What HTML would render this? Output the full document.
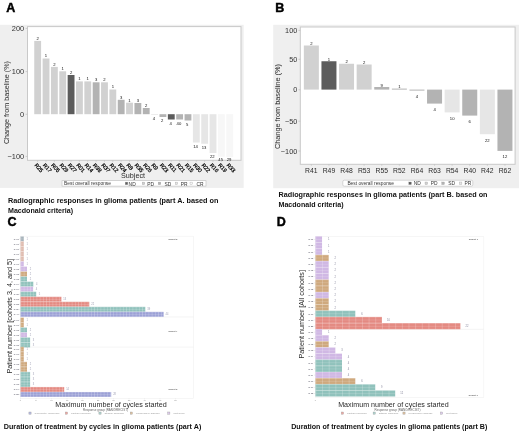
<!DOCTYPE html>
<html lang="en"><head><meta charset="utf-8"><title>Radiographic responses and duration of treatment in glioma patients</title>
<style>
html,body{margin:0;padding:0;background:#fff;}
body{width:520px;height:431px;overflow:hidden;}
svg{display:block;font-family:"Liberation Sans", sans-serif;filter:blur(0.35px);}
</style></head><body>
<svg width="520" height="431" viewBox="0 0 520 431">
<rect x="0" y="0" width="520" height="431" fill="#fff"/>
<text x="6.30" y="12.20" font-size="12.5" text-anchor="start" fill="#000" font-weight="bold" stroke="#000" stroke-width="0.45">A</text>
<text x="275.30" y="12.20" font-size="12.5" text-anchor="start" fill="#000" font-weight="bold" stroke="#000" stroke-width="0.45">B</text>
<text x="7.60" y="225.60" font-size="12.5" text-anchor="start" fill="#000" font-weight="bold" stroke="#000" stroke-width="0.45">C</text>
<text x="276.70" y="225.90" font-size="12.5" text-anchor="start" fill="#000" font-weight="bold" stroke="#000" stroke-width="0.45">D</text>
<rect x="0.00" y="24.80" width="243.70" height="163.10" fill="#efefef"/>
<rect x="27.50" y="26.60" width="213.50" height="133.70" fill="#fff" stroke="#c9c9c9" stroke-width="1"/>
<text x="24.20" y="31.05" font-size="7.4" text-anchor="end" fill="#333">200</text>
<line x1="25.60" y1="28.40" x2="27.50" y2="28.40" stroke="#bdbdbd" stroke-width="0.7"/>
<text x="24.20" y="74.25" font-size="7.4" text-anchor="end" fill="#333">100</text>
<line x1="25.60" y1="71.60" x2="27.50" y2="71.60" stroke="#bdbdbd" stroke-width="0.7"/>
<text x="24.20" y="116.95" font-size="7.4" text-anchor="end" fill="#333">0</text>
<line x1="25.60" y1="114.30" x2="27.50" y2="114.30" stroke="#bdbdbd" stroke-width="0.7"/>
<text x="24.20" y="159.05" font-size="7.4" text-anchor="end" fill="#333">−100</text>
<line x1="25.60" y1="156.40" x2="27.50" y2="156.40" stroke="#bdbdbd" stroke-width="0.7"/>
<text x="8.80" y="102.60" font-size="7.2" text-anchor="middle" fill="#2a2a2a" transform="rotate(-90 8.80 102.60)" textLength="83.00" lengthAdjust="spacingAndGlyphs">Change from baseline (%)</text>
<rect x="34.25" y="40.90" width="6.85" height="73.30" fill="#d1d1d1"/>
<text x="37.67" y="39.80" font-size="4.2" text-anchor="middle" fill="#111">2</text>
<line x1="37.67" y1="160.30" x2="37.67" y2="161.80" stroke="#bdbdbd" stroke-width="0.6"/>
<text x="34.17" y="165.40" font-size="5.5" text-anchor="start" fill="#000" transform="rotate(48 34.17 165.40)" stroke="#000" stroke-width="0.2">R25</text>
<rect x="42.60" y="58.50" width="6.85" height="55.70" fill="#d1d1d1"/>
<text x="46.02" y="57.40" font-size="4.2" text-anchor="middle" fill="#111">1</text>
<line x1="46.02" y1="160.30" x2="46.02" y2="161.80" stroke="#bdbdbd" stroke-width="0.6"/>
<text x="42.52" y="165.40" font-size="5.5" text-anchor="start" fill="#000" transform="rotate(48 42.52 165.40)" stroke="#000" stroke-width="0.2">R17</text>
<rect x="50.95" y="66.90" width="6.85" height="47.30" fill="#d1d1d1"/>
<text x="54.37" y="65.80" font-size="4.2" text-anchor="middle" fill="#111">2</text>
<line x1="54.37" y1="160.30" x2="54.37" y2="161.80" stroke="#bdbdbd" stroke-width="0.6"/>
<text x="50.87" y="165.40" font-size="5.5" text-anchor="start" fill="#000" transform="rotate(48 50.87 165.40)" stroke="#000" stroke-width="0.2">R05</text>
<rect x="59.30" y="71.30" width="6.85" height="42.90" fill="#d1d1d1"/>
<text x="62.72" y="70.20" font-size="4.2" text-anchor="middle" fill="#111">1</text>
<line x1="62.72" y1="160.30" x2="62.72" y2="161.80" stroke="#bdbdbd" stroke-width="0.6"/>
<text x="59.22" y="165.40" font-size="5.5" text-anchor="start" fill="#000" transform="rotate(48 59.22 165.40)" stroke="#000" stroke-width="0.2">R29</text>
<rect x="67.65" y="75.00" width="6.85" height="39.20" fill="#5c5c5c"/>
<text x="71.07" y="73.90" font-size="4.2" text-anchor="middle" fill="#111">2</text>
<line x1="71.07" y1="160.30" x2="71.07" y2="161.80" stroke="#bdbdbd" stroke-width="0.6"/>
<text x="67.57" y="165.40" font-size="5.5" text-anchor="start" fill="#000" transform="rotate(48 67.57 165.40)" stroke="#000" stroke-width="0.2">R27</text>
<rect x="76.00" y="81.40" width="6.85" height="32.80" fill="#d1d1d1"/>
<text x="79.42" y="80.30" font-size="4.2" text-anchor="middle" fill="#111">1</text>
<line x1="79.42" y1="160.30" x2="79.42" y2="161.80" stroke="#bdbdbd" stroke-width="0.6"/>
<text x="75.92" y="165.40" font-size="5.5" text-anchor="start" fill="#000" transform="rotate(48 75.92 165.40)" stroke="#000" stroke-width="0.2">R01</text>
<rect x="84.35" y="81.40" width="6.85" height="32.80" fill="#d1d1d1"/>
<text x="87.77" y="80.30" font-size="4.2" text-anchor="middle" fill="#111">1</text>
<line x1="87.77" y1="160.30" x2="87.77" y2="161.80" stroke="#bdbdbd" stroke-width="0.6"/>
<text x="84.27" y="165.40" font-size="5.5" text-anchor="start" fill="#000" transform="rotate(48 84.27 165.40)" stroke="#000" stroke-width="0.2">R14</text>
<rect x="92.70" y="82.30" width="6.85" height="31.90" fill="#b3b3b3"/>
<text x="96.12" y="81.20" font-size="4.2" text-anchor="middle" fill="#111">3</text>
<line x1="96.12" y1="160.30" x2="96.12" y2="161.80" stroke="#bdbdbd" stroke-width="0.6"/>
<text x="92.62" y="165.40" font-size="5.5" text-anchor="start" fill="#000" transform="rotate(48 92.62 165.40)" stroke="#000" stroke-width="0.2">R38</text>
<rect x="101.05" y="82.30" width="6.85" height="31.90" fill="#d1d1d1"/>
<text x="104.47" y="81.20" font-size="4.2" text-anchor="middle" fill="#111">2</text>
<line x1="104.47" y1="160.30" x2="104.47" y2="161.80" stroke="#bdbdbd" stroke-width="0.6"/>
<text x="100.97" y="165.40" font-size="5.5" text-anchor="start" fill="#000" transform="rotate(48 100.97 165.40)" stroke="#000" stroke-width="0.2">R37</text>
<rect x="109.40" y="89.50" width="6.85" height="24.70" fill="#d1d1d1"/>
<text x="112.82" y="88.40" font-size="4.2" text-anchor="middle" fill="#111">1</text>
<line x1="112.82" y1="160.30" x2="112.82" y2="161.80" stroke="#bdbdbd" stroke-width="0.6"/>
<text x="109.32" y="165.40" font-size="5.5" text-anchor="start" fill="#000" transform="rotate(48 109.32 165.40)" stroke="#000" stroke-width="0.2">R12</text>
<rect x="117.75" y="99.80" width="6.85" height="14.40" fill="#b3b3b3"/>
<text x="121.17" y="98.70" font-size="4.2" text-anchor="middle" fill="#111">3</text>
<line x1="121.17" y1="160.30" x2="121.17" y2="161.80" stroke="#bdbdbd" stroke-width="0.6"/>
<text x="117.67" y="165.40" font-size="5.5" text-anchor="start" fill="#000" transform="rotate(48 117.67 165.40)" stroke="#000" stroke-width="0.2">R24</text>
<rect x="126.10" y="102.70" width="6.85" height="11.50" fill="#d1d1d1"/>
<text x="129.52" y="101.60" font-size="4.2" text-anchor="middle" fill="#111">1</text>
<line x1="129.52" y1="160.30" x2="129.52" y2="161.80" stroke="#bdbdbd" stroke-width="0.6"/>
<text x="126.02" y="165.40" font-size="5.5" text-anchor="start" fill="#000" transform="rotate(48 126.02 165.40)" stroke="#000" stroke-width="0.2">R8</text>
<rect x="134.45" y="103.00" width="6.85" height="11.20" fill="#b3b3b3"/>
<text x="137.87" y="101.90" font-size="4.2" text-anchor="middle" fill="#111">3</text>
<line x1="137.87" y1="160.30" x2="137.87" y2="161.80" stroke="#bdbdbd" stroke-width="0.6"/>
<text x="134.37" y="165.40" font-size="5.5" text-anchor="start" fill="#000" transform="rotate(48 134.37 165.40)" stroke="#000" stroke-width="0.2">R35</text>
<rect x="142.80" y="108.00" width="6.85" height="6.20" fill="#b3b3b3"/>
<text x="146.22" y="106.90" font-size="4.2" text-anchor="middle" fill="#111">2</text>
<line x1="146.22" y1="160.30" x2="146.22" y2="161.80" stroke="#bdbdbd" stroke-width="0.6"/>
<text x="142.72" y="165.40" font-size="5.5" text-anchor="start" fill="#000" transform="rotate(48 142.72 165.40)" stroke="#000" stroke-width="0.2">R26</text>
<rect x="151.15" y="114.20" width="6.85" height="0.40" fill="#d1d1d1"/>
<text x="153.87" y="119.60" font-size="4.2" text-anchor="middle" fill="#111">4</text>
<line x1="154.57" y1="160.30" x2="154.57" y2="161.80" stroke="#bdbdbd" stroke-width="0.6"/>
<text x="151.07" y="165.40" font-size="5.5" text-anchor="start" fill="#000" transform="rotate(48 151.07 165.40)" stroke="#000" stroke-width="0.2">R9</text>
<rect x="159.50" y="114.20" width="6.85" height="2.80" fill="#b3b3b3"/>
<text x="162.22" y="122.00" font-size="4.2" text-anchor="middle" fill="#111">2</text>
<line x1="162.92" y1="160.30" x2="162.92" y2="161.80" stroke="#bdbdbd" stroke-width="0.6"/>
<text x="159.42" y="165.40" font-size="5.5" text-anchor="start" fill="#000" transform="rotate(48 159.42 165.40)" stroke="#000" stroke-width="0.2">R23</text>
<rect x="167.85" y="114.20" width="6.85" height="5.30" fill="#5c5c5c"/>
<text x="170.57" y="124.50" font-size="4.2" text-anchor="middle" fill="#111">4</text>
<line x1="171.27" y1="160.30" x2="171.27" y2="161.80" stroke="#bdbdbd" stroke-width="0.6"/>
<text x="167.77" y="165.40" font-size="5.5" text-anchor="start" fill="#000" transform="rotate(48 167.77 165.40)" stroke="#000" stroke-width="0.2">R11</text>
<rect x="176.20" y="114.20" width="6.85" height="5.30" fill="#b3b3b3"/>
<text x="178.92" y="124.50" font-size="4.2" text-anchor="middle" fill="#111">40</text>
<line x1="179.62" y1="160.30" x2="179.62" y2="161.80" stroke="#bdbdbd" stroke-width="0.6"/>
<text x="176.12" y="165.40" font-size="5.5" text-anchor="start" fill="#000" transform="rotate(48 176.12 165.40)" stroke="#000" stroke-width="0.2">R21</text>
<rect x="184.55" y="114.20" width="6.85" height="6.30" fill="#b3b3b3"/>
<text x="187.27" y="125.50" font-size="4.2" text-anchor="middle" fill="#111">5</text>
<line x1="187.97" y1="160.30" x2="187.97" y2="161.80" stroke="#bdbdbd" stroke-width="0.6"/>
<text x="184.47" y="165.40" font-size="5.5" text-anchor="start" fill="#000" transform="rotate(48 184.47 165.40)" stroke="#000" stroke-width="0.2">R15</text>
<rect x="192.90" y="114.20" width="6.85" height="28.30" fill="#e6e6e6"/>
<text x="195.62" y="147.50" font-size="4.2" text-anchor="middle" fill="#111">14</text>
<line x1="196.32" y1="160.30" x2="196.32" y2="161.80" stroke="#bdbdbd" stroke-width="0.6"/>
<text x="192.82" y="165.40" font-size="5.5" text-anchor="start" fill="#000" transform="rotate(48 192.82 165.40)" stroke="#000" stroke-width="0.2">R30</text>
<rect x="201.25" y="114.20" width="6.85" height="29.55" fill="#e6e6e6"/>
<text x="203.97" y="148.75" font-size="4.2" text-anchor="middle" fill="#111">13</text>
<line x1="204.67" y1="160.30" x2="204.67" y2="161.80" stroke="#bdbdbd" stroke-width="0.6"/>
<text x="201.17" y="165.40" font-size="5.5" text-anchor="start" fill="#000" transform="rotate(48 201.17 165.40)" stroke="#000" stroke-width="0.2">R22</text>
<rect x="209.60" y="114.20" width="6.85" height="38.80" fill="#e6e6e6"/>
<text x="212.32" y="158.00" font-size="4.2" text-anchor="middle" fill="#111">22</text>
<line x1="213.02" y1="160.30" x2="213.02" y2="161.80" stroke="#bdbdbd" stroke-width="0.6"/>
<text x="209.52" y="165.40" font-size="5.5" text-anchor="start" fill="#000" transform="rotate(48 209.52 165.40)" stroke="#000" stroke-width="0.2">R16</text>
<rect x="217.95" y="114.20" width="6.85" height="42.55" fill="#f7f7f7"/>
<text x="220.67" y="160.75" font-size="4.2" text-anchor="middle" fill="#111">45</text>
<line x1="221.37" y1="160.30" x2="221.37" y2="161.80" stroke="#bdbdbd" stroke-width="0.6"/>
<text x="217.87" y="165.40" font-size="5.5" text-anchor="start" fill="#000" transform="rotate(48 217.87 165.40)" stroke="#000" stroke-width="0.2">R19</text>
<rect x="226.30" y="114.20" width="6.85" height="42.80" fill="#f7f7f7"/>
<text x="229.02" y="161.00" font-size="4.2" text-anchor="middle" fill="#111">29</text>
<line x1="229.72" y1="160.30" x2="229.72" y2="161.80" stroke="#bdbdbd" stroke-width="0.6"/>
<text x="226.22" y="165.40" font-size="5.5" text-anchor="start" fill="#000" transform="rotate(48 226.22 165.40)" stroke="#000" stroke-width="0.2">R33</text>
<text x="133.00" y="178.30" font-size="7.2" text-anchor="middle" fill="#2a2a2a" textLength="24.00" lengthAdjust="spacingAndGlyphs">Subject</text>
<rect x="62.00" y="180.70" width="144.00" height="5.40" fill="#fff" stroke="#bcbcbc" stroke-width="0.6"/>
<text x="64.00" y="185.00" font-size="4.9" text-anchor="start" fill="#333">Best overall response</text>
<rect x="125.20" y="182.10" width="2.60" height="2.60" fill="#5c5c5c" stroke="#9a9a9a" stroke-width="0.3"/>
<text x="128.60" y="185.50" font-size="4.9" text-anchor="start" fill="#333">ND</text>
<rect x="142.20" y="182.10" width="2.60" height="2.60" fill="#d1d1d1" stroke="#9a9a9a" stroke-width="0.3"/>
<text x="147.30" y="185.50" font-size="4.9" text-anchor="start" fill="#333">PD</text>
<rect x="158.20" y="182.10" width="2.60" height="2.60" fill="#b3b3b3" stroke="#9a9a9a" stroke-width="0.3"/>
<text x="164.60" y="185.50" font-size="4.9" text-anchor="start" fill="#333">SD</text>
<rect x="175.20" y="182.10" width="2.60" height="2.60" fill="#e6e6e6" stroke="#9a9a9a" stroke-width="0.3"/>
<text x="180.80" y="185.50" font-size="4.9" text-anchor="start" fill="#333">PR</text>
<rect x="190.00" y="182.10" width="2.60" height="2.60" fill="#f7f7f7" stroke="#9a9a9a" stroke-width="0.3"/>
<text x="196.50" y="185.50" font-size="4.9" text-anchor="start" fill="#333">CR</text>
<text x="8.00" y="203.20" font-size="7.3" text-anchor="start" fill="#111" font-weight="bold" textLength="210.50" lengthAdjust="spacingAndGlyphs">Radiographic responses in glioma patients (part A. based on</text>
<text x="8.00" y="213.00" font-size="7.3" text-anchor="start" fill="#111" font-weight="bold" textLength="65.00" lengthAdjust="spacingAndGlyphs">Macdonald criteria)</text>
<rect x="273.20" y="24.80" width="245.80" height="163.40" fill="#efefef"/>
<rect x="300.30" y="27.00" width="214.80" height="137.30" fill="#fff" stroke="#c9c9c9" stroke-width="1"/>
<text x="297.30" y="33.00" font-size="7.3" text-anchor="end" fill="#333">100</text>
<line x1="298.40" y1="30.40" x2="300.30" y2="30.40" stroke="#bdbdbd" stroke-width="0.7"/>
<text x="297.30" y="61.90" font-size="7.3" text-anchor="end" fill="#333">50</text>
<line x1="298.40" y1="59.30" x2="300.30" y2="59.30" stroke="#bdbdbd" stroke-width="0.7"/>
<text x="297.30" y="92.40" font-size="7.3" text-anchor="end" fill="#333">0</text>
<line x1="298.40" y1="89.80" x2="300.30" y2="89.80" stroke="#bdbdbd" stroke-width="0.7"/>
<text x="297.30" y="123.80" font-size="7.3" text-anchor="end" fill="#333">−50</text>
<line x1="298.40" y1="121.20" x2="300.30" y2="121.20" stroke="#bdbdbd" stroke-width="0.7"/>
<text x="297.30" y="153.60" font-size="7.3" text-anchor="end" fill="#333">−100</text>
<line x1="298.40" y1="151.00" x2="300.30" y2="151.00" stroke="#bdbdbd" stroke-width="0.7"/>
<text x="280.20" y="106.60" font-size="7.3" text-anchor="middle" fill="#2a2a2a" transform="rotate(-90 280.20 106.60)" textLength="85.00" lengthAdjust="spacingAndGlyphs">Change from baseline (%)</text>
<rect x="303.85" y="45.50" width="15.00" height="44.10" fill="#d1d1d1"/>
<text x="311.35" y="45.00" font-size="4.2" text-anchor="middle" fill="#111">2</text>
<line x1="311.35" y1="164.20" x2="311.35" y2="165.80" stroke="#bdbdbd" stroke-width="0.6"/>
<text x="311.35" y="173.20" font-size="6.8" text-anchor="middle" fill="#2a2a2a">R41</text>
<rect x="321.45" y="61.25" width="15.00" height="28.35" fill="#5c5c5c"/>
<text x="328.95" y="60.75" font-size="4.2" text-anchor="middle" fill="#111">1</text>
<line x1="328.95" y1="164.20" x2="328.95" y2="165.80" stroke="#bdbdbd" stroke-width="0.6"/>
<text x="328.95" y="173.20" font-size="6.8" text-anchor="middle" fill="#2a2a2a">R49</text>
<rect x="339.05" y="63.75" width="15.00" height="25.85" fill="#d1d1d1"/>
<text x="346.55" y="63.25" font-size="4.2" text-anchor="middle" fill="#111">2</text>
<line x1="346.55" y1="164.20" x2="346.55" y2="165.80" stroke="#bdbdbd" stroke-width="0.6"/>
<text x="346.55" y="173.20" font-size="6.8" text-anchor="middle" fill="#2a2a2a">R48</text>
<rect x="356.65" y="64.50" width="15.00" height="25.10" fill="#d1d1d1"/>
<text x="364.15" y="64.00" font-size="4.2" text-anchor="middle" fill="#111">2</text>
<line x1="364.15" y1="164.20" x2="364.15" y2="165.80" stroke="#bdbdbd" stroke-width="0.6"/>
<text x="364.15" y="173.20" font-size="6.8" text-anchor="middle" fill="#2a2a2a">R53</text>
<rect x="374.25" y="87.00" width="15.00" height="2.60" fill="#b3b3b3"/>
<text x="381.75" y="86.50" font-size="4.2" text-anchor="middle" fill="#111">9</text>
<line x1="381.75" y1="164.20" x2="381.75" y2="165.80" stroke="#bdbdbd" stroke-width="0.6"/>
<text x="381.75" y="173.20" font-size="6.8" text-anchor="middle" fill="#2a2a2a">R55</text>
<rect x="391.85" y="88.60" width="15.00" height="1.00" fill="#b3b3b3"/>
<text x="399.35" y="88.10" font-size="4.2" text-anchor="middle" fill="#111">1</text>
<line x1="399.35" y1="164.20" x2="399.35" y2="165.80" stroke="#bdbdbd" stroke-width="0.6"/>
<text x="399.35" y="173.20" font-size="6.8" text-anchor="middle" fill="#2a2a2a">R52</text>
<rect x="409.45" y="89.60" width="15.00" height="1.00" fill="#b3b3b3"/>
<text x="416.95" y="97.90" font-size="4.2" text-anchor="middle" fill="#111">4</text>
<line x1="416.95" y1="164.20" x2="416.95" y2="165.80" stroke="#bdbdbd" stroke-width="0.6"/>
<text x="416.95" y="173.20" font-size="6.8" text-anchor="middle" fill="#2a2a2a">R64</text>
<rect x="427.05" y="89.60" width="15.00" height="14.00" fill="#b3b3b3"/>
<text x="434.55" y="110.90" font-size="4.2" text-anchor="middle" fill="#111">4</text>
<line x1="434.55" y1="164.20" x2="434.55" y2="165.80" stroke="#bdbdbd" stroke-width="0.6"/>
<text x="434.55" y="173.20" font-size="6.8" text-anchor="middle" fill="#2a2a2a">R63</text>
<rect x="444.65" y="89.60" width="15.00" height="22.80" fill="#e6e6e6"/>
<text x="452.15" y="119.70" font-size="4.2" text-anchor="middle" fill="#111">10</text>
<line x1="452.15" y1="164.20" x2="452.15" y2="165.80" stroke="#bdbdbd" stroke-width="0.6"/>
<text x="452.15" y="173.20" font-size="6.8" text-anchor="middle" fill="#2a2a2a">R54</text>
<rect x="462.25" y="89.60" width="15.00" height="26.00" fill="#b3b3b3"/>
<text x="469.75" y="122.90" font-size="4.2" text-anchor="middle" fill="#111">6</text>
<line x1="469.75" y1="164.20" x2="469.75" y2="165.80" stroke="#bdbdbd" stroke-width="0.6"/>
<text x="469.75" y="173.20" font-size="6.8" text-anchor="middle" fill="#2a2a2a">R40</text>
<rect x="479.85" y="89.60" width="15.00" height="44.60" fill="#e6e6e6"/>
<text x="487.35" y="141.50" font-size="4.2" text-anchor="middle" fill="#111">22</text>
<line x1="487.35" y1="164.20" x2="487.35" y2="165.80" stroke="#bdbdbd" stroke-width="0.6"/>
<text x="487.35" y="173.20" font-size="6.8" text-anchor="middle" fill="#2a2a2a">R42</text>
<rect x="497.45" y="89.60" width="15.00" height="61.30" fill="#b3b3b3"/>
<text x="504.95" y="158.20" font-size="4.2" text-anchor="middle" fill="#111">12</text>
<line x1="504.95" y1="164.20" x2="504.95" y2="165.80" stroke="#bdbdbd" stroke-width="0.6"/>
<text x="504.95" y="173.20" font-size="6.8" text-anchor="middle" fill="#2a2a2a">R62</text>
<rect x="342.80" y="180.20" width="130.00" height="6.00" fill="#fff" stroke="#bcbcbc" stroke-width="0.6" rx="1.5"/>
<text x="347.40" y="184.90" font-size="4.85" text-anchor="start" fill="#333">Best overall response</text>
<rect x="408.80" y="182.00" width="2.60" height="2.60" fill="#5c5c5c" stroke="#9a9a9a" stroke-width="0.3"/>
<text x="413.75" y="185.40" font-size="4.9" text-anchor="start" fill="#333">ND</text>
<rect x="425.00" y="182.00" width="2.60" height="2.60" fill="#d1d1d1" stroke="#9a9a9a" stroke-width="0.3"/>
<text x="430.75" y="185.40" font-size="4.9" text-anchor="start" fill="#333">PD</text>
<rect x="441.80" y="182.00" width="2.60" height="2.60" fill="#b3b3b3" stroke="#9a9a9a" stroke-width="0.3"/>
<text x="448.25" y="185.40" font-size="4.9" text-anchor="start" fill="#333">SD</text>
<rect x="459.30" y="182.00" width="2.60" height="2.60" fill="#e6e6e6" stroke="#9a9a9a" stroke-width="0.3"/>
<text x="464.50" y="185.40" font-size="4.9" text-anchor="start" fill="#333">PR</text>
<text x="278.50" y="196.60" font-size="7.3" text-anchor="start" fill="#111" font-weight="bold" textLength="209.00" lengthAdjust="spacingAndGlyphs">Radiographic responses in glioma patients (part B. based on</text>
<text x="278.50" y="207.10" font-size="7.3" text-anchor="start" fill="#111" font-weight="bold" textLength="65.00" lengthAdjust="spacingAndGlyphs">Macdonald criteria)</text>
<defs>
<pattern id="gc" width="3.2" height="4.95" patternUnits="userSpaceOnUse" x="20.5" y="0"><rect x="0" y="0" width="0.55" height="4.95" fill="#fff" opacity="0.32"/></pattern>
<pattern id="gd" width="6.65" height="6.2" patternUnits="userSpaceOnUse" x="315.4" y="0"><rect x="0" y="0" width="0.6" height="6.2" fill="#fff" opacity="0.32"/></pattern>
</defs>
<rect x="20.50" y="236.20" width="173.00" height="162.40" fill="none" stroke="#f1f1f1" stroke-width="0.6"/>
<line x1="20.50" y1="317.00" x2="193.50" y2="317.00" stroke="#ececec" stroke-width="0.6"/>
<line x1="20.50" y1="347.10" x2="193.50" y2="347.10" stroke="#ececec" stroke-width="0.6"/>
<rect x="20.50" y="236.40" width="3.30" height="5.00" fill="#a7b3bb"/>
<rect x="20.50" y="236.40" width="3.30" height="0.40" fill="#fff" opacity="0.42"/>
<rect x="20.50" y="241.00" width="3.30" height="0.40" fill="#fff" opacity="0.42"/>
<rect x="20.50" y="238.60" width="3.30" height="0.60" fill="#fff" opacity="0.22"/>
<rect x="20.50" y="236.40" width="3.30" height="5.00" fill="url(#gc)"/>
<text x="27.20" y="239.80" font-size="2.6" text-anchor="middle" fill="#a0a0b4">1</text>
<text x="18.70" y="239.70" font-size="2.3" text-anchor="end" fill="#445">R-01</text>
<line x1="19.30" y1="238.90" x2="20.50" y2="238.90" stroke="#bbb" stroke-width="0.3"/>
<rect x="20.50" y="241.43" width="3.30" height="5.00" fill="#dfbbaf"/>
<rect x="20.50" y="241.43" width="3.30" height="0.40" fill="#fff" opacity="0.42"/>
<rect x="20.50" y="246.03" width="3.30" height="0.40" fill="#fff" opacity="0.42"/>
<rect x="20.50" y="243.63" width="3.30" height="0.60" fill="#fff" opacity="0.22"/>
<rect x="20.50" y="241.43" width="3.30" height="5.00" fill="url(#gc)"/>
<text x="27.20" y="244.83" font-size="2.6" text-anchor="middle" fill="#a0a0b4">1</text>
<text x="18.70" y="244.73" font-size="2.3" text-anchor="end" fill="#445">R-01</text>
<line x1="19.30" y1="243.93" x2="20.50" y2="243.93" stroke="#bbb" stroke-width="0.3"/>
<rect x="20.50" y="246.46" width="3.30" height="5.00" fill="#dfbbaf"/>
<rect x="20.50" y="246.46" width="3.30" height="0.40" fill="#fff" opacity="0.42"/>
<rect x="20.50" y="251.06" width="3.30" height="0.40" fill="#fff" opacity="0.42"/>
<rect x="20.50" y="248.66" width="3.30" height="0.60" fill="#fff" opacity="0.22"/>
<rect x="20.50" y="246.46" width="3.30" height="5.00" fill="url(#gc)"/>
<text x="27.20" y="249.86" font-size="2.6" text-anchor="middle" fill="#a0a0b4">1</text>
<text x="18.70" y="249.76" font-size="2.3" text-anchor="end" fill="#445">R-01</text>
<line x1="19.30" y1="248.96" x2="20.50" y2="248.96" stroke="#bbb" stroke-width="0.3"/>
<rect x="20.50" y="251.49" width="3.30" height="5.00" fill="#dfbbaf"/>
<rect x="20.50" y="251.49" width="3.30" height="0.40" fill="#fff" opacity="0.42"/>
<rect x="20.50" y="256.09" width="3.30" height="0.40" fill="#fff" opacity="0.42"/>
<rect x="20.50" y="253.69" width="3.30" height="0.60" fill="#fff" opacity="0.22"/>
<rect x="20.50" y="251.49" width="3.30" height="5.00" fill="url(#gc)"/>
<text x="27.20" y="254.89" font-size="2.6" text-anchor="middle" fill="#a0a0b4">1</text>
<text x="18.70" y="254.79" font-size="2.3" text-anchor="end" fill="#445">R-01</text>
<line x1="19.30" y1="253.99" x2="20.50" y2="253.99" stroke="#bbb" stroke-width="0.3"/>
<rect x="20.50" y="256.52" width="3.30" height="5.00" fill="#dfbbaf"/>
<rect x="20.50" y="256.52" width="3.30" height="0.40" fill="#fff" opacity="0.42"/>
<rect x="20.50" y="261.12" width="3.30" height="0.40" fill="#fff" opacity="0.42"/>
<rect x="20.50" y="258.72" width="3.30" height="0.60" fill="#fff" opacity="0.22"/>
<rect x="20.50" y="256.52" width="3.30" height="5.00" fill="url(#gc)"/>
<text x="27.20" y="259.92" font-size="2.6" text-anchor="middle" fill="#a0a0b4">1</text>
<text x="18.70" y="259.82" font-size="2.3" text-anchor="end" fill="#445">R-01</text>
<line x1="19.30" y1="259.02" x2="20.50" y2="259.02" stroke="#bbb" stroke-width="0.3"/>
<rect x="20.50" y="261.55" width="3.30" height="5.00" fill="#d0b8e4"/>
<rect x="20.50" y="261.55" width="3.30" height="0.40" fill="#fff" opacity="0.42"/>
<rect x="20.50" y="266.15" width="3.30" height="0.40" fill="#fff" opacity="0.42"/>
<rect x="20.50" y="263.75" width="3.30" height="0.60" fill="#fff" opacity="0.22"/>
<rect x="20.50" y="261.55" width="3.30" height="5.00" fill="url(#gc)"/>
<text x="27.20" y="264.95" font-size="2.6" text-anchor="middle" fill="#a0a0b4">1</text>
<text x="18.70" y="264.85" font-size="2.3" text-anchor="end" fill="#445">R-01</text>
<line x1="19.30" y1="264.05" x2="20.50" y2="264.05" stroke="#bbb" stroke-width="0.3"/>
<rect x="20.50" y="266.58" width="6.50" height="5.00" fill="#d0b8e4"/>
<rect x="20.50" y="266.58" width="6.50" height="0.40" fill="#fff" opacity="0.42"/>
<rect x="20.50" y="271.18" width="6.50" height="0.40" fill="#fff" opacity="0.42"/>
<rect x="20.50" y="268.78" width="6.50" height="0.60" fill="#fff" opacity="0.22"/>
<rect x="20.50" y="266.58" width="6.50" height="5.00" fill="url(#gc)"/>
<text x="30.40" y="269.98" font-size="2.6" text-anchor="middle" fill="#a0a0b4">2</text>
<text x="18.70" y="269.88" font-size="2.3" text-anchor="end" fill="#445">R-02</text>
<line x1="19.30" y1="269.08" x2="20.50" y2="269.08" stroke="#bbb" stroke-width="0.3"/>
<rect x="20.50" y="271.61" width="6.50" height="5.00" fill="#cfa97e"/>
<rect x="20.50" y="271.61" width="6.50" height="0.40" fill="#fff" opacity="0.42"/>
<rect x="20.50" y="276.21" width="6.50" height="0.40" fill="#fff" opacity="0.42"/>
<rect x="20.50" y="273.81" width="6.50" height="0.60" fill="#fff" opacity="0.22"/>
<rect x="20.50" y="271.61" width="6.50" height="5.00" fill="url(#gc)"/>
<text x="30.40" y="275.01" font-size="2.6" text-anchor="middle" fill="#a0a0b4">2</text>
<text x="18.70" y="274.91" font-size="2.3" text-anchor="end" fill="#445">R-02</text>
<line x1="19.30" y1="274.11" x2="20.50" y2="274.11" stroke="#bbb" stroke-width="0.3"/>
<rect x="20.50" y="276.64" width="6.50" height="5.00" fill="#90c2bc"/>
<rect x="20.50" y="276.64" width="6.50" height="0.40" fill="#fff" opacity="0.42"/>
<rect x="20.50" y="281.24" width="6.50" height="0.40" fill="#fff" opacity="0.42"/>
<rect x="20.50" y="278.84" width="6.50" height="0.60" fill="#fff" opacity="0.22"/>
<rect x="20.50" y="276.64" width="6.50" height="5.00" fill="url(#gc)"/>
<text x="30.40" y="280.04" font-size="2.6" text-anchor="middle" fill="#a0a0b4">2</text>
<text x="18.70" y="279.94" font-size="2.3" text-anchor="end" fill="#445">R-02</text>
<line x1="19.30" y1="279.14" x2="20.50" y2="279.14" stroke="#bbb" stroke-width="0.3"/>
<rect x="20.50" y="281.67" width="12.80" height="5.00" fill="#90c2bc"/>
<rect x="20.50" y="281.67" width="12.80" height="0.40" fill="#fff" opacity="0.42"/>
<rect x="20.50" y="286.27" width="12.80" height="0.40" fill="#fff" opacity="0.42"/>
<rect x="20.50" y="283.87" width="12.80" height="0.60" fill="#fff" opacity="0.22"/>
<rect x="20.50" y="281.67" width="12.80" height="5.00" fill="url(#gc)"/>
<text x="36.70" y="285.07" font-size="2.6" text-anchor="middle" fill="#a0a0b4">4</text>
<text x="18.70" y="284.97" font-size="2.3" text-anchor="end" fill="#445">R-04</text>
<line x1="19.30" y1="284.17" x2="20.50" y2="284.17" stroke="#bbb" stroke-width="0.3"/>
<rect x="20.50" y="286.70" width="12.60" height="5.00" fill="#d0b8e4"/>
<rect x="20.50" y="286.70" width="12.60" height="0.40" fill="#fff" opacity="0.42"/>
<rect x="20.50" y="291.30" width="12.60" height="0.40" fill="#fff" opacity="0.42"/>
<rect x="20.50" y="288.90" width="12.60" height="0.60" fill="#fff" opacity="0.22"/>
<rect x="20.50" y="286.70" width="12.60" height="5.00" fill="url(#gc)"/>
<text x="36.50" y="290.10" font-size="2.6" text-anchor="middle" fill="#a0a0b4">4</text>
<text x="18.70" y="290.00" font-size="2.3" text-anchor="end" fill="#445">R-04</text>
<line x1="19.30" y1="289.20" x2="20.50" y2="289.20" stroke="#bbb" stroke-width="0.3"/>
<rect x="20.50" y="291.73" width="15.70" height="5.00" fill="#90c2bc"/>
<rect x="20.50" y="291.73" width="15.70" height="0.40" fill="#fff" opacity="0.42"/>
<rect x="20.50" y="296.33" width="15.70" height="0.40" fill="#fff" opacity="0.42"/>
<rect x="20.50" y="293.93" width="15.70" height="0.60" fill="#fff" opacity="0.22"/>
<rect x="20.50" y="291.73" width="15.70" height="5.00" fill="url(#gc)"/>
<text x="39.60" y="295.13" font-size="2.6" text-anchor="middle" fill="#a0a0b4">5</text>
<text x="18.70" y="295.03" font-size="2.3" text-anchor="end" fill="#445">R-05</text>
<line x1="19.30" y1="294.23" x2="20.50" y2="294.23" stroke="#bbb" stroke-width="0.3"/>
<rect x="20.50" y="296.76" width="40.90" height="5.00" fill="#e48a82"/>
<rect x="20.50" y="296.76" width="40.90" height="0.40" fill="#fff" opacity="0.42"/>
<rect x="20.50" y="301.36" width="40.90" height="0.40" fill="#fff" opacity="0.42"/>
<rect x="20.50" y="298.96" width="40.90" height="0.60" fill="#fff" opacity="0.22"/>
<rect x="20.50" y="296.76" width="40.90" height="5.00" fill="url(#gc)"/>
<text x="64.80" y="300.16" font-size="2.6" text-anchor="middle" fill="#a0a0b4">13</text>
<text x="18.70" y="300.06" font-size="2.3" text-anchor="end" fill="#445">R-13</text>
<line x1="19.30" y1="299.26" x2="20.50" y2="299.26" stroke="#bbb" stroke-width="0.3"/>
<rect x="20.50" y="301.79" width="68.80" height="5.00" fill="#e48a82"/>
<rect x="20.50" y="301.79" width="68.80" height="0.40" fill="#fff" opacity="0.42"/>
<rect x="20.50" y="306.39" width="68.80" height="0.40" fill="#fff" opacity="0.42"/>
<rect x="20.50" y="303.99" width="68.80" height="0.60" fill="#fff" opacity="0.22"/>
<rect x="20.50" y="301.79" width="68.80" height="5.00" fill="url(#gc)"/>
<text x="92.70" y="305.19" font-size="2.6" text-anchor="middle" fill="#a0a0b4">22</text>
<text x="18.70" y="305.09" font-size="2.3" text-anchor="end" fill="#445">R-22</text>
<line x1="19.30" y1="304.29" x2="20.50" y2="304.29" stroke="#bbb" stroke-width="0.3"/>
<rect x="20.50" y="306.82" width="124.80" height="5.00" fill="#90c2bc"/>
<rect x="20.50" y="306.82" width="124.80" height="0.40" fill="#fff" opacity="0.42"/>
<rect x="20.50" y="311.42" width="124.80" height="0.40" fill="#fff" opacity="0.42"/>
<rect x="20.50" y="309.02" width="124.80" height="0.60" fill="#fff" opacity="0.22"/>
<rect x="20.50" y="306.82" width="124.80" height="5.00" fill="url(#gc)"/>
<text x="148.70" y="310.22" font-size="2.6" text-anchor="middle" fill="#a0a0b4">39</text>
<text x="18.70" y="310.12" font-size="2.3" text-anchor="end" fill="#445">R-39</text>
<line x1="19.30" y1="309.32" x2="20.50" y2="309.32" stroke="#bbb" stroke-width="0.3"/>
<rect x="20.50" y="311.85" width="143.10" height="5.00" fill="#9ca1d6"/>
<rect x="20.50" y="311.85" width="143.10" height="0.40" fill="#fff" opacity="0.42"/>
<rect x="20.50" y="316.45" width="143.10" height="0.40" fill="#fff" opacity="0.42"/>
<rect x="20.50" y="314.05" width="143.10" height="0.60" fill="#fff" opacity="0.22"/>
<rect x="20.50" y="311.85" width="143.10" height="5.00" fill="url(#gc)"/>
<text x="167.00" y="315.25" font-size="2.6" text-anchor="middle" fill="#a0a0b4">44</text>
<text x="18.70" y="315.15" font-size="2.3" text-anchor="end" fill="#445">R-44</text>
<line x1="19.30" y1="314.35" x2="20.50" y2="314.35" stroke="#bbb" stroke-width="0.3"/>
<rect x="20.50" y="317.60" width="3.30" height="5.00" fill="#cfa97e"/>
<rect x="20.50" y="317.60" width="3.30" height="0.40" fill="#fff" opacity="0.42"/>
<rect x="20.50" y="322.20" width="3.30" height="0.40" fill="#fff" opacity="0.42"/>
<rect x="20.50" y="319.80" width="3.30" height="0.60" fill="#fff" opacity="0.22"/>
<rect x="20.50" y="317.60" width="3.30" height="5.00" fill="url(#gc)"/>
<text x="27.20" y="321.00" font-size="2.6" text-anchor="middle" fill="#a0a0b4">1</text>
<text x="18.70" y="320.90" font-size="2.3" text-anchor="end" fill="#445">R-01</text>
<line x1="19.30" y1="320.10" x2="20.50" y2="320.10" stroke="#bbb" stroke-width="0.3"/>
<rect x="20.50" y="322.57" width="3.30" height="5.00" fill="#cfa97e"/>
<rect x="20.50" y="322.57" width="3.30" height="0.40" fill="#fff" opacity="0.42"/>
<rect x="20.50" y="327.17" width="3.30" height="0.40" fill="#fff" opacity="0.42"/>
<rect x="20.50" y="324.77" width="3.30" height="0.60" fill="#fff" opacity="0.22"/>
<rect x="20.50" y="322.57" width="3.30" height="5.00" fill="url(#gc)"/>
<text x="27.20" y="325.97" font-size="2.6" text-anchor="middle" fill="#a0a0b4">1</text>
<text x="18.70" y="325.87" font-size="2.3" text-anchor="end" fill="#445">R-01</text>
<line x1="19.30" y1="325.07" x2="20.50" y2="325.07" stroke="#bbb" stroke-width="0.3"/>
<rect x="20.50" y="327.54" width="6.50" height="5.00" fill="#90c2bc"/>
<rect x="20.50" y="327.54" width="6.50" height="0.40" fill="#fff" opacity="0.42"/>
<rect x="20.50" y="332.14" width="6.50" height="0.40" fill="#fff" opacity="0.42"/>
<rect x="20.50" y="329.74" width="6.50" height="0.60" fill="#fff" opacity="0.22"/>
<rect x="20.50" y="327.54" width="6.50" height="5.00" fill="url(#gc)"/>
<text x="30.40" y="330.94" font-size="2.6" text-anchor="middle" fill="#a0a0b4">2</text>
<text x="18.70" y="330.84" font-size="2.3" text-anchor="end" fill="#445">R-02</text>
<line x1="19.30" y1="330.04" x2="20.50" y2="330.04" stroke="#bbb" stroke-width="0.3"/>
<rect x="20.50" y="332.51" width="6.50" height="5.00" fill="#d0b8e4"/>
<rect x="20.50" y="332.51" width="6.50" height="0.40" fill="#fff" opacity="0.42"/>
<rect x="20.50" y="337.11" width="6.50" height="0.40" fill="#fff" opacity="0.42"/>
<rect x="20.50" y="334.71" width="6.50" height="0.60" fill="#fff" opacity="0.22"/>
<rect x="20.50" y="332.51" width="6.50" height="5.00" fill="url(#gc)"/>
<text x="30.40" y="335.91" font-size="2.6" text-anchor="middle" fill="#a0a0b4">2</text>
<text x="18.70" y="335.81" font-size="2.3" text-anchor="end" fill="#445">R-02</text>
<line x1="19.30" y1="335.01" x2="20.50" y2="335.01" stroke="#bbb" stroke-width="0.3"/>
<rect x="20.50" y="337.48" width="9.60" height="5.00" fill="#90c2bc"/>
<rect x="20.50" y="337.48" width="9.60" height="0.40" fill="#fff" opacity="0.42"/>
<rect x="20.50" y="342.08" width="9.60" height="0.40" fill="#fff" opacity="0.42"/>
<rect x="20.50" y="339.68" width="9.60" height="0.60" fill="#fff" opacity="0.22"/>
<rect x="20.50" y="337.48" width="9.60" height="5.00" fill="url(#gc)"/>
<text x="33.50" y="340.88" font-size="2.6" text-anchor="middle" fill="#a0a0b4">3</text>
<text x="18.70" y="340.78" font-size="2.3" text-anchor="end" fill="#445">R-03</text>
<line x1="19.30" y1="339.98" x2="20.50" y2="339.98" stroke="#bbb" stroke-width="0.3"/>
<rect x="20.50" y="342.45" width="9.60" height="5.00" fill="#90c2bc"/>
<rect x="20.50" y="342.45" width="9.60" height="0.40" fill="#fff" opacity="0.42"/>
<rect x="20.50" y="347.05" width="9.60" height="0.40" fill="#fff" opacity="0.42"/>
<rect x="20.50" y="344.65" width="9.60" height="0.60" fill="#fff" opacity="0.22"/>
<rect x="20.50" y="342.45" width="9.60" height="5.00" fill="url(#gc)"/>
<text x="33.50" y="345.85" font-size="2.6" text-anchor="middle" fill="#a0a0b4">3</text>
<text x="18.70" y="345.75" font-size="2.3" text-anchor="end" fill="#445">R-03</text>
<line x1="19.30" y1="344.95" x2="20.50" y2="344.95" stroke="#bbb" stroke-width="0.3"/>
<rect x="20.50" y="346.80" width="3.30" height="5.00" fill="#cfa97e"/>
<rect x="20.50" y="346.80" width="3.30" height="0.40" fill="#fff" opacity="0.42"/>
<rect x="20.50" y="351.40" width="3.30" height="0.40" fill="#fff" opacity="0.42"/>
<rect x="20.50" y="349.00" width="3.30" height="0.60" fill="#fff" opacity="0.22"/>
<rect x="20.50" y="346.80" width="3.30" height="5.00" fill="url(#gc)"/>
<text x="27.20" y="350.20" font-size="2.6" text-anchor="middle" fill="#a0a0b4">1</text>
<text x="18.70" y="350.10" font-size="2.3" text-anchor="end" fill="#445">R-01</text>
<line x1="19.30" y1="349.30" x2="20.50" y2="349.30" stroke="#bbb" stroke-width="0.3"/>
<rect x="20.50" y="351.82" width="3.30" height="5.00" fill="#cfa97e"/>
<rect x="20.50" y="351.82" width="3.30" height="0.40" fill="#fff" opacity="0.42"/>
<rect x="20.50" y="356.42" width="3.30" height="0.40" fill="#fff" opacity="0.42"/>
<rect x="20.50" y="354.02" width="3.30" height="0.60" fill="#fff" opacity="0.22"/>
<rect x="20.50" y="351.82" width="3.30" height="5.00" fill="url(#gc)"/>
<text x="27.20" y="355.22" font-size="2.6" text-anchor="middle" fill="#a0a0b4">1</text>
<text x="18.70" y="355.12" font-size="2.3" text-anchor="end" fill="#445">R-01</text>
<line x1="19.30" y1="354.32" x2="20.50" y2="354.32" stroke="#bbb" stroke-width="0.3"/>
<rect x="20.50" y="356.84" width="3.30" height="5.00" fill="#cfa97e"/>
<rect x="20.50" y="356.84" width="3.30" height="0.40" fill="#fff" opacity="0.42"/>
<rect x="20.50" y="361.44" width="3.30" height="0.40" fill="#fff" opacity="0.42"/>
<rect x="20.50" y="359.04" width="3.30" height="0.60" fill="#fff" opacity="0.22"/>
<rect x="20.50" y="356.84" width="3.30" height="5.00" fill="url(#gc)"/>
<text x="27.20" y="360.24" font-size="2.6" text-anchor="middle" fill="#a0a0b4">1</text>
<text x="18.70" y="360.14" font-size="2.3" text-anchor="end" fill="#445">R-01</text>
<line x1="19.30" y1="359.34" x2="20.50" y2="359.34" stroke="#bbb" stroke-width="0.3"/>
<rect x="20.50" y="361.86" width="6.50" height="5.00" fill="#cfa97e"/>
<rect x="20.50" y="361.86" width="6.50" height="0.40" fill="#fff" opacity="0.42"/>
<rect x="20.50" y="366.46" width="6.50" height="0.40" fill="#fff" opacity="0.42"/>
<rect x="20.50" y="364.06" width="6.50" height="0.60" fill="#fff" opacity="0.22"/>
<rect x="20.50" y="361.86" width="6.50" height="5.00" fill="url(#gc)"/>
<text x="30.40" y="365.26" font-size="2.6" text-anchor="middle" fill="#a0a0b4">2</text>
<text x="18.70" y="365.16" font-size="2.3" text-anchor="end" fill="#445">R-02</text>
<line x1="19.30" y1="364.36" x2="20.50" y2="364.36" stroke="#bbb" stroke-width="0.3"/>
<rect x="20.50" y="366.88" width="6.50" height="5.00" fill="#cfa97e"/>
<rect x="20.50" y="366.88" width="6.50" height="0.40" fill="#fff" opacity="0.42"/>
<rect x="20.50" y="371.48" width="6.50" height="0.40" fill="#fff" opacity="0.42"/>
<rect x="20.50" y="369.08" width="6.50" height="0.60" fill="#fff" opacity="0.22"/>
<rect x="20.50" y="366.88" width="6.50" height="5.00" fill="url(#gc)"/>
<text x="30.40" y="370.28" font-size="2.6" text-anchor="middle" fill="#a0a0b4">2</text>
<text x="18.70" y="370.18" font-size="2.3" text-anchor="end" fill="#445">R-02</text>
<line x1="19.30" y1="369.38" x2="20.50" y2="369.38" stroke="#bbb" stroke-width="0.3"/>
<rect x="20.50" y="371.90" width="9.60" height="5.00" fill="#90c2bc"/>
<rect x="20.50" y="371.90" width="9.60" height="0.40" fill="#fff" opacity="0.42"/>
<rect x="20.50" y="376.50" width="9.60" height="0.40" fill="#fff" opacity="0.42"/>
<rect x="20.50" y="374.10" width="9.60" height="0.60" fill="#fff" opacity="0.22"/>
<rect x="20.50" y="371.90" width="9.60" height="5.00" fill="url(#gc)"/>
<text x="33.50" y="375.30" font-size="2.6" text-anchor="middle" fill="#a0a0b4">3</text>
<text x="18.70" y="375.20" font-size="2.3" text-anchor="end" fill="#445">R-03</text>
<line x1="19.30" y1="374.40" x2="20.50" y2="374.40" stroke="#bbb" stroke-width="0.3"/>
<rect x="20.50" y="376.92" width="9.60" height="5.00" fill="#90c2bc"/>
<rect x="20.50" y="376.92" width="9.60" height="0.40" fill="#fff" opacity="0.42"/>
<rect x="20.50" y="381.52" width="9.60" height="0.40" fill="#fff" opacity="0.42"/>
<rect x="20.50" y="379.12" width="9.60" height="0.60" fill="#fff" opacity="0.22"/>
<rect x="20.50" y="376.92" width="9.60" height="5.00" fill="url(#gc)"/>
<text x="33.50" y="380.32" font-size="2.6" text-anchor="middle" fill="#a0a0b4">3</text>
<text x="18.70" y="380.22" font-size="2.3" text-anchor="end" fill="#445">R-03</text>
<line x1="19.30" y1="379.42" x2="20.50" y2="379.42" stroke="#bbb" stroke-width="0.3"/>
<rect x="20.50" y="381.94" width="9.60" height="5.00" fill="#90c2bc"/>
<rect x="20.50" y="381.94" width="9.60" height="0.40" fill="#fff" opacity="0.42"/>
<rect x="20.50" y="386.54" width="9.60" height="0.40" fill="#fff" opacity="0.42"/>
<rect x="20.50" y="384.14" width="9.60" height="0.60" fill="#fff" opacity="0.22"/>
<rect x="20.50" y="381.94" width="9.60" height="5.00" fill="url(#gc)"/>
<text x="33.50" y="385.34" font-size="2.6" text-anchor="middle" fill="#a0a0b4">3</text>
<text x="18.70" y="385.24" font-size="2.3" text-anchor="end" fill="#445">R-03</text>
<line x1="19.30" y1="384.44" x2="20.50" y2="384.44" stroke="#bbb" stroke-width="0.3"/>
<rect x="20.50" y="386.96" width="43.70" height="5.00" fill="#e48a82"/>
<rect x="20.50" y="386.96" width="43.70" height="0.40" fill="#fff" opacity="0.42"/>
<rect x="20.50" y="391.56" width="43.70" height="0.40" fill="#fff" opacity="0.42"/>
<rect x="20.50" y="389.16" width="43.70" height="0.60" fill="#fff" opacity="0.22"/>
<rect x="20.50" y="386.96" width="43.70" height="5.00" fill="url(#gc)"/>
<text x="67.60" y="390.36" font-size="2.6" text-anchor="middle" fill="#a0a0b4">14</text>
<text x="18.70" y="390.26" font-size="2.3" text-anchor="end" fill="#445">R-14</text>
<line x1="19.30" y1="389.46" x2="20.50" y2="389.46" stroke="#bbb" stroke-width="0.3"/>
<rect x="20.50" y="391.98" width="90.70" height="5.00" fill="#9ca1d6"/>
<rect x="20.50" y="391.98" width="90.70" height="0.40" fill="#fff" opacity="0.42"/>
<rect x="20.50" y="396.58" width="90.70" height="0.40" fill="#fff" opacity="0.42"/>
<rect x="20.50" y="394.18" width="90.70" height="0.60" fill="#fff" opacity="0.22"/>
<rect x="20.50" y="391.98" width="90.70" height="5.00" fill="url(#gc)"/>
<text x="114.60" y="395.38" font-size="2.6" text-anchor="middle" fill="#a0a0b4">28</text>
<text x="18.70" y="395.28" font-size="2.3" text-anchor="end" fill="#445">R-28</text>
<line x1="19.30" y1="394.48" x2="20.50" y2="394.48" stroke="#bbb" stroke-width="0.3"/>
<text x="20.50" y="401.20" font-size="2.4" text-anchor="middle" fill="#999">0</text>
<line x1="20.50" y1="398.60" x2="20.50" y2="399.30" stroke="#bbb" stroke-width="0.3"/>
<text x="36.00" y="401.20" font-size="2.4" text-anchor="middle" fill="#999">5</text>
<line x1="36.00" y1="398.60" x2="36.00" y2="399.30" stroke="#bbb" stroke-width="0.3"/>
<text x="51.50" y="401.20" font-size="2.4" text-anchor="middle" fill="#999">10</text>
<line x1="51.50" y1="398.60" x2="51.50" y2="399.30" stroke="#bbb" stroke-width="0.3"/>
<text x="67.00" y="401.20" font-size="2.4" text-anchor="middle" fill="#999">15</text>
<line x1="67.00" y1="398.60" x2="67.00" y2="399.30" stroke="#bbb" stroke-width="0.3"/>
<text x="82.50" y="401.20" font-size="2.4" text-anchor="middle" fill="#999">20</text>
<line x1="82.50" y1="398.60" x2="82.50" y2="399.30" stroke="#bbb" stroke-width="0.3"/>
<text x="98.00" y="401.20" font-size="2.4" text-anchor="middle" fill="#999">25</text>
<line x1="98.00" y1="398.60" x2="98.00" y2="399.30" stroke="#bbb" stroke-width="0.3"/>
<text x="113.50" y="401.20" font-size="2.4" text-anchor="middle" fill="#999">30</text>
<line x1="113.50" y1="398.60" x2="113.50" y2="399.30" stroke="#bbb" stroke-width="0.3"/>
<text x="129.00" y="401.20" font-size="2.4" text-anchor="middle" fill="#999">35</text>
<line x1="129.00" y1="398.60" x2="129.00" y2="399.30" stroke="#bbb" stroke-width="0.3"/>
<text x="144.50" y="401.20" font-size="2.4" text-anchor="middle" fill="#999">40</text>
<line x1="144.50" y1="398.60" x2="144.50" y2="399.30" stroke="#bbb" stroke-width="0.3"/>
<text x="160.00" y="401.20" font-size="2.4" text-anchor="middle" fill="#999">45</text>
<line x1="160.00" y1="398.60" x2="160.00" y2="399.30" stroke="#bbb" stroke-width="0.3"/>
<text x="175.50" y="401.20" font-size="2.4" text-anchor="middle" fill="#999">50</text>
<line x1="175.50" y1="398.60" x2="175.50" y2="399.30" stroke="#bbb" stroke-width="0.3"/>
<text x="172.80" y="239.80" font-size="2.4" text-anchor="middle" fill="#333">Cohort 3</text>
<text x="172.80" y="332.20" font-size="2.4" text-anchor="middle" fill="#333">Cohort 4</text>
<text x="172.80" y="389.60" font-size="2.4" text-anchor="middle" fill="#333">Cohort 5</text>
<text x="11.80" y="316.30" font-size="7.4" text-anchor="middle" fill="#2a2a2a" transform="rotate(-90 11.80 316.30)" textLength="114.50" lengthAdjust="spacingAndGlyphs">Patient number [cohorts 3, 4, and 5]</text>
<text x="55.30" y="406.60" font-size="7.2" text-anchor="start" fill="#2a2a2a" textLength="111.50" lengthAdjust="spacingAndGlyphs">Maximum number of cycles started</text>
<text x="83.00" y="410.80" font-size="3.0" text-anchor="start" fill="#666" textLength="45.00" lengthAdjust="spacingAndGlyphs">Response group (RANO/RECIST)</text>
<rect x="28.90" y="412.00" width="2.20" height="2.20" fill="#9ca1d6" stroke="#999" stroke-width="0.35" fill-opacity="0.75"/>
<text x="34.60" y="413.90" font-size="2.4" text-anchor="start" fill="#999" textLength="25.00" lengthAdjust="spacingAndGlyphs">Complete response</text>
<rect x="65.30" y="412.00" width="2.20" height="2.20" fill="#e48a82" stroke="#999" stroke-width="0.35" fill-opacity="0.75"/>
<text x="71.00" y="413.90" font-size="2.4" text-anchor="start" fill="#999" textLength="20.00" lengthAdjust="spacingAndGlyphs">Partial response</text>
<rect x="98.90" y="412.00" width="2.20" height="2.20" fill="#90c2bc" stroke="#999" stroke-width="0.35" fill-opacity="0.75"/>
<text x="104.60" y="413.90" font-size="2.4" text-anchor="start" fill="#999" textLength="19.50" lengthAdjust="spacingAndGlyphs">Stable disease</text>
<rect x="130.20" y="412.00" width="2.20" height="2.20" fill="#cfa97e" stroke="#999" stroke-width="0.35" fill-opacity="0.75"/>
<text x="135.90" y="413.90" font-size="2.4" text-anchor="start" fill="#999" textLength="24.00" lengthAdjust="spacingAndGlyphs">Progressive disease</text>
<rect x="167.70" y="412.00" width="2.20" height="2.20" fill="#d0b8e4" stroke="#999" stroke-width="0.35" fill-opacity="0.75"/>
<text x="173.40" y="413.90" font-size="2.4" text-anchor="start" fill="#999" textLength="11.50" lengthAdjust="spacingAndGlyphs">Not done</text>
<text x="3.80" y="428.60" font-size="7.3" text-anchor="start" fill="#111" font-weight="bold" textLength="197.50" lengthAdjust="spacingAndGlyphs">Duration of treatment by cycles in glioma patients (part A)</text>
<rect x="315.40" y="236.70" width="168.40" height="160.70" fill="none" stroke="#f1f1f1" stroke-width="0.6"/>
<line x1="315.40" y1="329.30" x2="483.80" y2="329.30" stroke="#ececec" stroke-width="0.6"/>
<rect x="315.40" y="236.30" width="6.65" height="6.20" fill="#d0b8e4"/>
<rect x="315.40" y="236.30" width="6.65" height="0.40" fill="#fff" opacity="0.42"/>
<rect x="315.40" y="242.10" width="6.65" height="0.40" fill="#fff" opacity="0.42"/>
<rect x="315.40" y="239.10" width="6.65" height="0.60" fill="#fff" opacity="0.22"/>
<rect x="315.40" y="236.30" width="6.65" height="6.20" fill="url(#gd)"/>
<text x="328.65" y="240.30" font-size="2.6" text-anchor="middle" fill="#85859a">1</text>
<text x="313.40" y="240.20" font-size="2.3" text-anchor="end" fill="#445">R-01</text>
<line x1="314.20" y1="239.40" x2="315.40" y2="239.40" stroke="#bbb" stroke-width="0.3"/>
<rect x="315.40" y="242.50" width="6.65" height="6.20" fill="#d0b8e4"/>
<rect x="315.40" y="242.50" width="6.65" height="0.40" fill="#fff" opacity="0.42"/>
<rect x="315.40" y="248.30" width="6.65" height="0.40" fill="#fff" opacity="0.42"/>
<rect x="315.40" y="245.30" width="6.65" height="0.60" fill="#fff" opacity="0.22"/>
<rect x="315.40" y="242.50" width="6.65" height="6.20" fill="url(#gd)"/>
<text x="328.65" y="246.50" font-size="2.6" text-anchor="middle" fill="#85859a">1</text>
<text x="313.40" y="246.40" font-size="2.3" text-anchor="end" fill="#445">R-01</text>
<line x1="314.20" y1="245.60" x2="315.40" y2="245.60" stroke="#bbb" stroke-width="0.3"/>
<rect x="315.40" y="248.70" width="6.65" height="6.20" fill="#d0b8e4"/>
<rect x="315.40" y="248.70" width="6.65" height="0.40" fill="#fff" opacity="0.42"/>
<rect x="315.40" y="254.50" width="6.65" height="0.40" fill="#fff" opacity="0.42"/>
<rect x="315.40" y="251.50" width="6.65" height="0.60" fill="#fff" opacity="0.22"/>
<rect x="315.40" y="248.70" width="6.65" height="6.20" fill="url(#gd)"/>
<text x="328.65" y="252.70" font-size="2.6" text-anchor="middle" fill="#85859a">1</text>
<text x="313.40" y="252.60" font-size="2.3" text-anchor="end" fill="#445">R-01</text>
<line x1="314.20" y1="251.80" x2="315.40" y2="251.80" stroke="#bbb" stroke-width="0.3"/>
<rect x="315.40" y="254.90" width="13.30" height="6.20" fill="#cfa97e"/>
<rect x="315.40" y="254.90" width="13.30" height="0.40" fill="#fff" opacity="0.42"/>
<rect x="315.40" y="260.70" width="13.30" height="0.40" fill="#fff" opacity="0.42"/>
<rect x="315.40" y="257.70" width="13.30" height="0.60" fill="#fff" opacity="0.22"/>
<rect x="315.40" y="254.90" width="13.30" height="6.20" fill="url(#gd)"/>
<text x="335.30" y="258.90" font-size="2.6" text-anchor="middle" fill="#85859a">2</text>
<text x="313.40" y="258.80" font-size="2.3" text-anchor="end" fill="#445">R-02</text>
<line x1="314.20" y1="258.00" x2="315.40" y2="258.00" stroke="#bbb" stroke-width="0.3"/>
<rect x="315.40" y="261.10" width="13.30" height="6.20" fill="#d0b8e4"/>
<rect x="315.40" y="261.10" width="13.30" height="0.40" fill="#fff" opacity="0.42"/>
<rect x="315.40" y="266.90" width="13.30" height="0.40" fill="#fff" opacity="0.42"/>
<rect x="315.40" y="263.90" width="13.30" height="0.60" fill="#fff" opacity="0.22"/>
<rect x="315.40" y="261.10" width="13.30" height="6.20" fill="url(#gd)"/>
<text x="335.30" y="265.10" font-size="2.6" text-anchor="middle" fill="#85859a">2</text>
<text x="313.40" y="265.00" font-size="2.3" text-anchor="end" fill="#445">R-02</text>
<line x1="314.20" y1="264.20" x2="315.40" y2="264.20" stroke="#bbb" stroke-width="0.3"/>
<rect x="315.40" y="267.30" width="13.30" height="6.20" fill="#d0b8e4"/>
<rect x="315.40" y="267.30" width="13.30" height="0.40" fill="#fff" opacity="0.42"/>
<rect x="315.40" y="273.10" width="13.30" height="0.40" fill="#fff" opacity="0.42"/>
<rect x="315.40" y="270.10" width="13.30" height="0.60" fill="#fff" opacity="0.22"/>
<rect x="315.40" y="267.30" width="13.30" height="6.20" fill="url(#gd)"/>
<text x="335.30" y="271.30" font-size="2.6" text-anchor="middle" fill="#85859a">2</text>
<text x="313.40" y="271.20" font-size="2.3" text-anchor="end" fill="#445">R-02</text>
<line x1="314.20" y1="270.40" x2="315.40" y2="270.40" stroke="#bbb" stroke-width="0.3"/>
<rect x="315.40" y="273.50" width="13.30" height="6.20" fill="#d0b8e4"/>
<rect x="315.40" y="273.50" width="13.30" height="0.40" fill="#fff" opacity="0.42"/>
<rect x="315.40" y="279.30" width="13.30" height="0.40" fill="#fff" opacity="0.42"/>
<rect x="315.40" y="276.30" width="13.30" height="0.60" fill="#fff" opacity="0.22"/>
<rect x="315.40" y="273.50" width="13.30" height="6.20" fill="url(#gd)"/>
<text x="335.30" y="277.50" font-size="2.6" text-anchor="middle" fill="#85859a">2</text>
<text x="313.40" y="277.40" font-size="2.3" text-anchor="end" fill="#445">R-02</text>
<line x1="314.20" y1="276.60" x2="315.40" y2="276.60" stroke="#bbb" stroke-width="0.3"/>
<rect x="315.40" y="279.70" width="13.30" height="6.20" fill="#cfa97e"/>
<rect x="315.40" y="279.70" width="13.30" height="0.40" fill="#fff" opacity="0.42"/>
<rect x="315.40" y="285.50" width="13.30" height="0.40" fill="#fff" opacity="0.42"/>
<rect x="315.40" y="282.50" width="13.30" height="0.60" fill="#fff" opacity="0.22"/>
<rect x="315.40" y="279.70" width="13.30" height="6.20" fill="url(#gd)"/>
<text x="335.30" y="283.70" font-size="2.6" text-anchor="middle" fill="#85859a">2</text>
<text x="313.40" y="283.60" font-size="2.3" text-anchor="end" fill="#445">R-02</text>
<line x1="314.20" y1="282.80" x2="315.40" y2="282.80" stroke="#bbb" stroke-width="0.3"/>
<rect x="315.40" y="285.90" width="13.30" height="6.20" fill="#cfa97e"/>
<rect x="315.40" y="285.90" width="13.30" height="0.40" fill="#fff" opacity="0.42"/>
<rect x="315.40" y="291.70" width="13.30" height="0.40" fill="#fff" opacity="0.42"/>
<rect x="315.40" y="288.70" width="13.30" height="0.60" fill="#fff" opacity="0.22"/>
<rect x="315.40" y="285.90" width="13.30" height="6.20" fill="url(#gd)"/>
<text x="335.30" y="289.90" font-size="2.6" text-anchor="middle" fill="#85859a">2</text>
<text x="313.40" y="289.80" font-size="2.3" text-anchor="end" fill="#445">R-02</text>
<line x1="314.20" y1="289.00" x2="315.40" y2="289.00" stroke="#bbb" stroke-width="0.3"/>
<rect x="315.40" y="292.10" width="13.30" height="6.20" fill="#d0b8e4"/>
<rect x="315.40" y="292.10" width="13.30" height="0.40" fill="#fff" opacity="0.42"/>
<rect x="315.40" y="297.90" width="13.30" height="0.40" fill="#fff" opacity="0.42"/>
<rect x="315.40" y="294.90" width="13.30" height="0.60" fill="#fff" opacity="0.22"/>
<rect x="315.40" y="292.10" width="13.30" height="6.20" fill="url(#gd)"/>
<text x="335.30" y="296.10" font-size="2.6" text-anchor="middle" fill="#85859a">2</text>
<text x="313.40" y="296.00" font-size="2.3" text-anchor="end" fill="#445">R-02</text>
<line x1="314.20" y1="295.20" x2="315.40" y2="295.20" stroke="#bbb" stroke-width="0.3"/>
<rect x="315.40" y="298.30" width="13.30" height="6.20" fill="#cfa97e"/>
<rect x="315.40" y="298.30" width="13.30" height="0.40" fill="#fff" opacity="0.42"/>
<rect x="315.40" y="304.10" width="13.30" height="0.40" fill="#fff" opacity="0.42"/>
<rect x="315.40" y="301.10" width="13.30" height="0.60" fill="#fff" opacity="0.22"/>
<rect x="315.40" y="298.30" width="13.30" height="6.20" fill="url(#gd)"/>
<text x="335.30" y="302.30" font-size="2.6" text-anchor="middle" fill="#85859a">2</text>
<text x="313.40" y="302.20" font-size="2.3" text-anchor="end" fill="#445">R-02</text>
<line x1="314.20" y1="301.40" x2="315.40" y2="301.40" stroke="#bbb" stroke-width="0.3"/>
<rect x="315.40" y="304.50" width="13.30" height="6.20" fill="#cfa97e"/>
<rect x="315.40" y="304.50" width="13.30" height="0.40" fill="#fff" opacity="0.42"/>
<rect x="315.40" y="310.30" width="13.30" height="0.40" fill="#fff" opacity="0.42"/>
<rect x="315.40" y="307.30" width="13.30" height="0.60" fill="#fff" opacity="0.22"/>
<rect x="315.40" y="304.50" width="13.30" height="6.20" fill="url(#gd)"/>
<text x="335.30" y="308.50" font-size="2.6" text-anchor="middle" fill="#85859a">2</text>
<text x="313.40" y="308.40" font-size="2.3" text-anchor="end" fill="#445">R-02</text>
<line x1="314.20" y1="307.60" x2="315.40" y2="307.60" stroke="#bbb" stroke-width="0.3"/>
<rect x="315.40" y="310.70" width="39.90" height="6.20" fill="#90c2bc"/>
<rect x="315.40" y="310.70" width="39.90" height="0.40" fill="#fff" opacity="0.42"/>
<rect x="315.40" y="316.50" width="39.90" height="0.40" fill="#fff" opacity="0.42"/>
<rect x="315.40" y="313.50" width="39.90" height="0.60" fill="#fff" opacity="0.22"/>
<rect x="315.40" y="310.70" width="39.90" height="6.20" fill="url(#gd)"/>
<text x="361.90" y="314.70" font-size="2.6" text-anchor="middle" fill="#85859a">6</text>
<text x="313.40" y="314.60" font-size="2.3" text-anchor="end" fill="#445">R-06</text>
<line x1="314.20" y1="313.80" x2="315.40" y2="313.80" stroke="#bbb" stroke-width="0.3"/>
<rect x="315.40" y="316.90" width="66.50" height="6.20" fill="#e48a82"/>
<rect x="315.40" y="316.90" width="66.50" height="0.40" fill="#fff" opacity="0.42"/>
<rect x="315.40" y="322.70" width="66.50" height="0.40" fill="#fff" opacity="0.42"/>
<rect x="315.40" y="319.70" width="66.50" height="0.60" fill="#fff" opacity="0.22"/>
<rect x="315.40" y="316.90" width="66.50" height="6.20" fill="url(#gd)"/>
<text x="388.50" y="320.90" font-size="2.6" text-anchor="middle" fill="#85859a">10</text>
<text x="313.40" y="320.80" font-size="2.3" text-anchor="end" fill="#445">R-10</text>
<line x1="314.20" y1="320.00" x2="315.40" y2="320.00" stroke="#bbb" stroke-width="0.3"/>
<rect x="315.40" y="323.10" width="144.97" height="6.20" fill="#e48a82"/>
<rect x="315.40" y="323.10" width="144.97" height="0.40" fill="#fff" opacity="0.42"/>
<rect x="315.40" y="328.90" width="144.97" height="0.40" fill="#fff" opacity="0.42"/>
<rect x="315.40" y="325.90" width="144.97" height="0.60" fill="#fff" opacity="0.22"/>
<rect x="315.40" y="323.10" width="144.97" height="6.20" fill="url(#gd)"/>
<text x="466.97" y="327.10" font-size="2.6" text-anchor="middle" fill="#85859a">22</text>
<text x="313.40" y="327.00" font-size="2.3" text-anchor="end" fill="#445">R-22</text>
<line x1="314.20" y1="326.20" x2="315.40" y2="326.20" stroke="#bbb" stroke-width="0.3"/>
<rect x="315.40" y="329.03" width="6.65" height="6.14" fill="#d0b8e4"/>
<rect x="315.40" y="329.03" width="6.65" height="0.40" fill="#fff" opacity="0.42"/>
<rect x="315.40" y="334.77" width="6.65" height="0.40" fill="#fff" opacity="0.42"/>
<rect x="315.40" y="331.80" width="6.65" height="0.60" fill="#fff" opacity="0.22"/>
<rect x="315.40" y="329.03" width="6.65" height="6.14" fill="url(#gd)"/>
<text x="328.65" y="333.00" font-size="2.6" text-anchor="middle" fill="#85859a">1</text>
<text x="313.40" y="332.90" font-size="2.3" text-anchor="end" fill="#445">R-01</text>
<line x1="314.20" y1="332.10" x2="315.40" y2="332.10" stroke="#bbb" stroke-width="0.3"/>
<rect x="315.40" y="335.17" width="13.30" height="6.14" fill="#d0b8e4"/>
<rect x="315.40" y="335.17" width="13.30" height="0.40" fill="#fff" opacity="0.42"/>
<rect x="315.40" y="340.91" width="13.30" height="0.40" fill="#fff" opacity="0.42"/>
<rect x="315.40" y="337.94" width="13.30" height="0.60" fill="#fff" opacity="0.22"/>
<rect x="315.40" y="335.17" width="13.30" height="6.14" fill="url(#gd)"/>
<text x="335.30" y="339.14" font-size="2.6" text-anchor="middle" fill="#85859a">2</text>
<text x="313.40" y="339.04" font-size="2.3" text-anchor="end" fill="#445">R-02</text>
<line x1="314.20" y1="338.24" x2="315.40" y2="338.24" stroke="#bbb" stroke-width="0.3"/>
<rect x="315.40" y="341.31" width="13.30" height="6.14" fill="#cfa97e"/>
<rect x="315.40" y="341.31" width="13.30" height="0.40" fill="#fff" opacity="0.42"/>
<rect x="315.40" y="347.05" width="13.30" height="0.40" fill="#fff" opacity="0.42"/>
<rect x="315.40" y="344.08" width="13.30" height="0.60" fill="#fff" opacity="0.22"/>
<rect x="315.40" y="341.31" width="13.30" height="6.14" fill="url(#gd)"/>
<text x="335.30" y="345.28" font-size="2.6" text-anchor="middle" fill="#85859a">2</text>
<text x="313.40" y="345.18" font-size="2.3" text-anchor="end" fill="#445">R-02</text>
<line x1="314.20" y1="344.38" x2="315.40" y2="344.38" stroke="#bbb" stroke-width="0.3"/>
<rect x="315.40" y="347.45" width="19.95" height="6.14" fill="#d0b8e4"/>
<rect x="315.40" y="347.45" width="19.95" height="0.40" fill="#fff" opacity="0.42"/>
<rect x="315.40" y="353.19" width="19.95" height="0.40" fill="#fff" opacity="0.42"/>
<rect x="315.40" y="350.22" width="19.95" height="0.60" fill="#fff" opacity="0.22"/>
<rect x="315.40" y="347.45" width="19.95" height="6.14" fill="url(#gd)"/>
<text x="341.95" y="351.42" font-size="2.6" text-anchor="middle" fill="#85859a">3</text>
<text x="313.40" y="351.32" font-size="2.3" text-anchor="end" fill="#445">R-03</text>
<line x1="314.20" y1="350.52" x2="315.40" y2="350.52" stroke="#bbb" stroke-width="0.3"/>
<rect x="315.40" y="353.59" width="26.60" height="6.14" fill="#d0b8e4"/>
<rect x="315.40" y="353.59" width="26.60" height="0.40" fill="#fff" opacity="0.42"/>
<rect x="315.40" y="359.33" width="26.60" height="0.40" fill="#fff" opacity="0.42"/>
<rect x="315.40" y="356.36" width="26.60" height="0.60" fill="#fff" opacity="0.22"/>
<rect x="315.40" y="353.59" width="26.60" height="6.14" fill="url(#gd)"/>
<text x="348.60" y="357.56" font-size="2.6" text-anchor="middle" fill="#85859a">4</text>
<text x="313.40" y="357.46" font-size="2.3" text-anchor="end" fill="#445">R-04</text>
<line x1="314.20" y1="356.66" x2="315.40" y2="356.66" stroke="#bbb" stroke-width="0.3"/>
<rect x="315.40" y="359.73" width="26.60" height="6.14" fill="#90c2bc"/>
<rect x="315.40" y="359.73" width="26.60" height="0.40" fill="#fff" opacity="0.42"/>
<rect x="315.40" y="365.47" width="26.60" height="0.40" fill="#fff" opacity="0.42"/>
<rect x="315.40" y="362.50" width="26.60" height="0.60" fill="#fff" opacity="0.22"/>
<rect x="315.40" y="359.73" width="26.60" height="6.14" fill="url(#gd)"/>
<text x="348.60" y="363.70" font-size="2.6" text-anchor="middle" fill="#85859a">4</text>
<text x="313.40" y="363.60" font-size="2.3" text-anchor="end" fill="#445">R-04</text>
<line x1="314.20" y1="362.80" x2="315.40" y2="362.80" stroke="#bbb" stroke-width="0.3"/>
<rect x="315.40" y="365.87" width="26.60" height="6.14" fill="#90c2bc"/>
<rect x="315.40" y="365.87" width="26.60" height="0.40" fill="#fff" opacity="0.42"/>
<rect x="315.40" y="371.61" width="26.60" height="0.40" fill="#fff" opacity="0.42"/>
<rect x="315.40" y="368.64" width="26.60" height="0.60" fill="#fff" opacity="0.22"/>
<rect x="315.40" y="365.87" width="26.60" height="6.14" fill="url(#gd)"/>
<text x="348.60" y="369.84" font-size="2.6" text-anchor="middle" fill="#85859a">4</text>
<text x="313.40" y="369.74" font-size="2.3" text-anchor="end" fill="#445">R-04</text>
<line x1="314.20" y1="368.94" x2="315.40" y2="368.94" stroke="#bbb" stroke-width="0.3"/>
<rect x="315.40" y="372.01" width="26.60" height="6.14" fill="#d0b8e4"/>
<rect x="315.40" y="372.01" width="26.60" height="0.40" fill="#fff" opacity="0.42"/>
<rect x="315.40" y="377.75" width="26.60" height="0.40" fill="#fff" opacity="0.42"/>
<rect x="315.40" y="374.78" width="26.60" height="0.60" fill="#fff" opacity="0.22"/>
<rect x="315.40" y="372.01" width="26.60" height="6.14" fill="url(#gd)"/>
<text x="348.60" y="375.98" font-size="2.6" text-anchor="middle" fill="#85859a">4</text>
<text x="313.40" y="375.88" font-size="2.3" text-anchor="end" fill="#445">R-04</text>
<line x1="314.20" y1="375.08" x2="315.40" y2="375.08" stroke="#bbb" stroke-width="0.3"/>
<rect x="315.40" y="378.15" width="39.90" height="6.14" fill="#cfa97e"/>
<rect x="315.40" y="378.15" width="39.90" height="0.40" fill="#fff" opacity="0.42"/>
<rect x="315.40" y="383.89" width="39.90" height="0.40" fill="#fff" opacity="0.42"/>
<rect x="315.40" y="380.92" width="39.90" height="0.60" fill="#fff" opacity="0.22"/>
<rect x="315.40" y="378.15" width="39.90" height="6.14" fill="url(#gd)"/>
<text x="361.90" y="382.12" font-size="2.6" text-anchor="middle" fill="#85859a">6</text>
<text x="313.40" y="382.02" font-size="2.3" text-anchor="end" fill="#445">R-06</text>
<line x1="314.20" y1="381.22" x2="315.40" y2="381.22" stroke="#bbb" stroke-width="0.3"/>
<rect x="315.40" y="384.29" width="59.85" height="6.14" fill="#90c2bc"/>
<rect x="315.40" y="384.29" width="59.85" height="0.40" fill="#fff" opacity="0.42"/>
<rect x="315.40" y="390.03" width="59.85" height="0.40" fill="#fff" opacity="0.42"/>
<rect x="315.40" y="387.06" width="59.85" height="0.60" fill="#fff" opacity="0.22"/>
<rect x="315.40" y="384.29" width="59.85" height="6.14" fill="url(#gd)"/>
<text x="381.85" y="388.26" font-size="2.6" text-anchor="middle" fill="#85859a">9</text>
<text x="313.40" y="388.16" font-size="2.3" text-anchor="end" fill="#445">R-09</text>
<line x1="314.20" y1="387.36" x2="315.40" y2="387.36" stroke="#bbb" stroke-width="0.3"/>
<rect x="315.40" y="390.43" width="79.80" height="6.14" fill="#90c2bc"/>
<rect x="315.40" y="390.43" width="79.80" height="0.40" fill="#fff" opacity="0.42"/>
<rect x="315.40" y="396.17" width="79.80" height="0.40" fill="#fff" opacity="0.42"/>
<rect x="315.40" y="393.20" width="79.80" height="0.60" fill="#fff" opacity="0.22"/>
<rect x="315.40" y="390.43" width="79.80" height="6.14" fill="url(#gd)"/>
<text x="401.80" y="394.40" font-size="2.6" text-anchor="middle" fill="#85859a">12</text>
<text x="313.40" y="394.30" font-size="2.3" text-anchor="end" fill="#445">R-12</text>
<line x1="314.20" y1="393.50" x2="315.40" y2="393.50" stroke="#bbb" stroke-width="0.3"/>
<text x="315.40" y="401.20" font-size="2.4" text-anchor="middle" fill="#999">0</text>
<text x="473.40" y="239.90" font-size="2.4" text-anchor="middle" fill="#333">Cohort 6</text>
<text x="473.20" y="395.90" font-size="2.4" text-anchor="middle" fill="#333">Cohort 7</text>
<text x="304.40" y="314.30" font-size="7.2" text-anchor="middle" fill="#2a2a2a" transform="rotate(-90 304.40 314.30)" textLength="88.40" lengthAdjust="spacingAndGlyphs">Patient number [All cohorts]</text>
<text x="338.20" y="406.60" font-size="7.2" text-anchor="start" fill="#2a2a2a" textLength="110.50" lengthAdjust="spacingAndGlyphs">Maximum number of cycles started</text>
<text x="374.50" y="410.80" font-size="3.0" text-anchor="start" fill="#666" textLength="46.00" lengthAdjust="spacingAndGlyphs">Response group (RANO/RECIST)</text>
<rect x="341.30" y="412.00" width="2.20" height="2.20" fill="#e48a82" stroke="#999" stroke-width="0.35" fill-opacity="0.75"/>
<text x="347.00" y="413.90" font-size="2.4" text-anchor="start" fill="#999" textLength="20.00" lengthAdjust="spacingAndGlyphs">Partial response</text>
<rect x="373.10" y="412.00" width="2.20" height="2.20" fill="#90c2bc" stroke="#999" stroke-width="0.35" fill-opacity="0.75"/>
<text x="378.80" y="413.90" font-size="2.4" text-anchor="start" fill="#999" textLength="19.50" lengthAdjust="spacingAndGlyphs">Stable disease</text>
<rect x="402.90" y="412.00" width="2.20" height="2.20" fill="#cfa97e" stroke="#999" stroke-width="0.35" fill-opacity="0.75"/>
<text x="408.60" y="413.90" font-size="2.4" text-anchor="start" fill="#999" textLength="24.00" lengthAdjust="spacingAndGlyphs">Progressive disease</text>
<rect x="440.40" y="412.00" width="2.20" height="2.20" fill="#d0b8e4" stroke="#999" stroke-width="0.35" fill-opacity="0.75"/>
<text x="446.10" y="413.90" font-size="2.4" text-anchor="start" fill="#999" textLength="11.50" lengthAdjust="spacingAndGlyphs">Not done</text>
<text x="291.20" y="428.60" font-size="7.3" text-anchor="start" fill="#111" font-weight="bold" textLength="196.20" lengthAdjust="spacingAndGlyphs">Duration of treatment by cycles in glioma patients (part B)</text>
</svg>
</body></html>
